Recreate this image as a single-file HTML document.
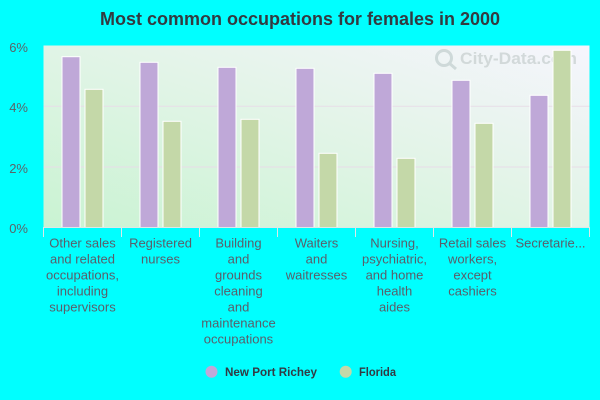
<!DOCTYPE html>
<html><head><meta charset="utf-8"><style>
html,body{margin:0;padding:0;background:#00ffff;}
svg{display:block;font-family:"Liberation Sans",sans-serif;}
</style></head><body>
<svg width="600" height="400" viewBox="0 0 600 400" xmlns="http://www.w3.org/2000/svg">
<defs>
<linearGradient id="bg" x1="0" y1="1" x2="1" y2="0">
<stop offset="0" stop-color="#c9f3d2"/>
<stop offset="0.55" stop-color="#e3f4e8"/>
<stop offset="1" stop-color="#f6f5fd"/>
</linearGradient>
</defs>
<rect x="0" y="0" width="600" height="400" fill="#00ffff"/>
<text x="300" y="25" text-anchor="middle" font-size="18" font-weight="bold" fill="#333a40" textLength="400" lengthAdjust="spacingAndGlyphs">Most common occupations for females in 2000</text>
<rect x="43.5" y="45.5" width="546" height="182" fill="url(#bg)"/>
<line x1="43.5" y1="106.3" x2="589.5" y2="106.3" stroke="#e8dde8" stroke-width="1"/>
<line x1="43.5" y1="167" x2="589.5" y2="167" stroke="#e8dde8" stroke-width="1"/>
<g opacity="0.75">
<circle cx="444" cy="58" r="7.5" fill="none" stroke="#c4d0d0" stroke-width="3"/>
<line x1="449" y1="63" x2="456" y2="69" stroke="#c4d0d0" stroke-width="3"/>
<text x="460" y="64" font-size="17" font-weight="bold" fill="#c8d0d0" textLength="117" lengthAdjust="spacingAndGlyphs">City-Data.com</text>
</g>
<g fill="#5a6468" font-size="13" text-anchor="end">
<text x="28" y="52">6%</text>
<text x="28" y="112">4%</text>
<text x="28" y="173">2%</text>
<text x="28" y="233">0%</text>
</g>
<g stroke="#ffffff" stroke-width="1">
<rect x="62" y="56.7" width="18" height="170.8" fill="#bfa8d8"/>
<rect x="85" y="89.3" width="18" height="138.2" fill="#c4d8a8"/>
<rect x="140" y="62.3" width="18" height="165.2" fill="#bfa8d8"/>
<rect x="163" y="121.3" width="18" height="106.2" fill="#c4d8a8"/>
<rect x="218" y="67.3" width="18" height="160.2" fill="#bfa8d8"/>
<rect x="241" y="119.3" width="18" height="108.2" fill="#c4d8a8"/>
<rect x="296" y="68.3" width="18" height="159.2" fill="#bfa8d8"/>
<rect x="319" y="153.3" width="18" height="74.2" fill="#c4d8a8"/>
<rect x="374" y="73.3" width="18" height="154.2" fill="#bfa8d8"/>
<rect x="397" y="158.3" width="18" height="69.2" fill="#c4d8a8"/>
<rect x="452" y="80.3" width="18" height="147.2" fill="#bfa8d8"/>
<rect x="475" y="123.3" width="18" height="104.2" fill="#c4d8a8"/>
<rect x="530" y="95.3" width="18" height="132.2" fill="#bfa8d8"/>
<rect x="553" y="50.3" width="18" height="177.2" fill="#c4d8a8"/>
</g>
<g stroke="#dde8e8" stroke-width="1">
<line x1="43.5" y1="227.5" x2="589.5" y2="227.5"/>
<line x1="43.5" y1="227" x2="43.5" y2="237"/>
<line x1="121.5" y1="227" x2="121.5" y2="237"/>
<line x1="199.5" y1="227" x2="199.5" y2="237"/>
<line x1="277.5" y1="227" x2="277.5" y2="237"/>
<line x1="355.5" y1="227" x2="355.5" y2="237"/>
<line x1="433.5" y1="227" x2="433.5" y2="237"/>
<line x1="511.5" y1="227" x2="511.5" y2="237"/>
<line x1="589.5" y1="227" x2="589.5" y2="237"/>
</g>
<g fill="#5a5e6a" font-size="13" text-anchor="middle">
<text x="82.5" y="247.5">Other sales</text>
<text x="82.5" y="263.5">and related</text>
<text x="82.5" y="279.5">occupations,</text>
<text x="82.5" y="295.5">including</text>
<text x="82.5" y="311.5">supervisors</text>
<text x="160.5" y="247.5">Registered</text>
<text x="160.5" y="263.5">nurses</text>
<text x="238.5" y="247.5">Building</text>
<text x="238.5" y="263.5">and</text>
<text x="238.5" y="279.5">grounds</text>
<text x="238.5" y="295.5">cleaning</text>
<text x="238.5" y="311.5">and</text>
<text x="238.5" y="327.5">maintenance</text>
<text x="238.5" y="343.5">occupations</text>
<text x="316.5" y="247.5">Waiters</text>
<text x="316.5" y="263.5">and</text>
<text x="316.5" y="279.5">waitresses</text>
<text x="394.5" y="247.5">Nursing,</text>
<text x="394.5" y="263.5">psychiatric,</text>
<text x="394.5" y="279.5">and home</text>
<text x="394.5" y="295.5">health</text>
<text x="394.5" y="311.5">aides</text>
<text x="472.5" y="247.5">Retail sales</text>
<text x="472.5" y="263.5">workers,</text>
<text x="472.5" y="279.5">except</text>
<text x="472.5" y="295.5">cashiers</text>
<text x="550.5" y="247.5">Secretarie...</text>
</g>
<circle cx="211.5" cy="371.7" r="6" fill="#bfa8d8"/>
<text x="225" y="376" font-size="12" font-weight="bold" fill="#333a44" textLength="92" lengthAdjust="spacingAndGlyphs">New Port Richey</text>
<circle cx="345.7" cy="371.7" r="6" fill="#c4d8a8"/>
<text x="359" y="376" font-size="12" font-weight="bold" fill="#333a44" textLength="37" lengthAdjust="spacingAndGlyphs">Florida</text>
</svg>
</body></html>
